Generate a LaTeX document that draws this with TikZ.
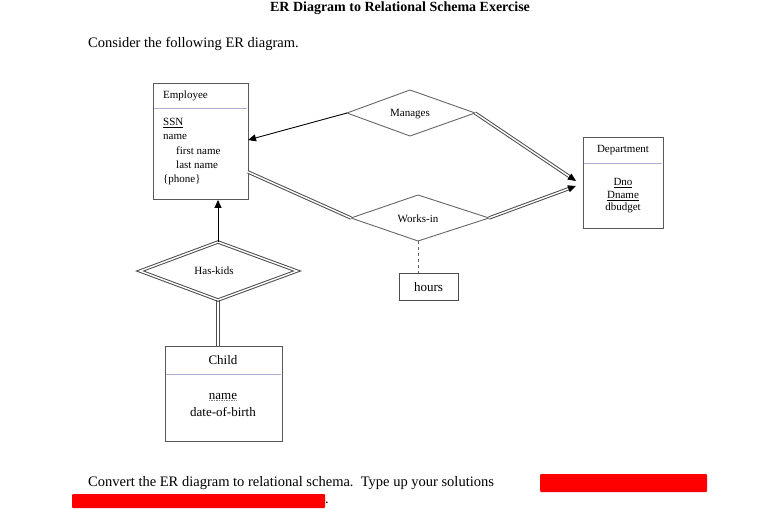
\documentclass[tikz,border=0pt]{standalone}
\usepackage{fontspec}
\setmainfont{Liberation Serif}
\usetikzlibrary{arrows.meta,calc}
\begin{document}
\begin{tikzpicture}[x=1pt,y=-1pt,
  ent/.style={draw=black!65,line width=1pt},
  hdr/.style={draw=blue!25!gray!50,line width=0.9pt},
  rel/.style={draw=black!60,line width=0.9pt},
  dbl/.style={draw=black!70,double=white,double distance=1.4pt,line width=1pt},
  arr/.style={-{Triangle[length=8pt,width=7pt]},line width=0.9pt},
  lbl/.style={font=\fontsize{11}{13}\selectfont,inner sep=0pt},
  txt/.style={font=\fontsize{14.5}{16}\selectfont,anchor=west,inner sep=0pt}]
\useasboundingbox (0,0) rectangle (779,521);
\node[font=\bfseries\fontsize{14}{16}\selectfont,inner sep=0pt] (title) at (400,8) {ER Diagram to Relational Schema Exercise};
\node[txt] (t1) at (88,44) {Consider the following ER diagram.};
% Employee
\draw[ent] (153,84) rectangle (248,200);
\draw[hdr] (154,108) -- (247,108);
\node[lbl,anchor=west] (emp) at (163,96) {Employee};
\node[lbl,anchor=north west,align=left,font=\fontsize{11}{14.3}\selectfont] (empattr) at (163,118) {\underline{SSN}\\name\\\hspace*{13pt}first name\\\hspace*{13pt}last name\\\{phone\}};
\coordinate (empR1) at (248,140);
\coordinate (empR2) at (248,172);
\coordinate (empB) at (218,200);
% Department
\draw[ent] (583,138) rectangle (663,229);
\draw[hdr] (584,163) -- (662,163);
\node[lbl] (dep) at (623,150) {Department};
\node[lbl,align=center,font=\fontsize{11}{12.5}\selectfont] (depattr) at (623,196) {\underline{Dno}\\\underline{Dname}\\dbudget};
\coordinate (depL1) at (576,181);
\coordinate (depL2) at (576,186);
% Manages
\coordinate (mL) at (347,113); \coordinate (mT) at (410,90); \coordinate (mR) at (475,113); \coordinate (mB) at (410,136);
\draw[rel] (mL)--(mT)--(mR)--(mB)--cycle;
\node[lbl] (man) at (410,114) {Manages};
% Works-in
\coordinate (wL) at (351,218); \coordinate (wT) at (418,195); \coordinate (wR) at (489,218); \coordinate (wB) at (418,241);
\draw[rel] (wL)--(wT)--(wR)--(wB)--cycle;
\node[lbl] (wor) at (418,219) {Works-in};
% Has-kids
\coordinate (hL) at (140,271); \coordinate (hT) at (218,242); \coordinate (hR) at (297,271); \coordinate (hB) at (218,300);
\draw[dbl] (hL)--(hT)--(hR)--(hB)--cycle;
\node[lbl] (has) at (214,271) {Has-kids};
% hours
\node[draw=black!70,line width=0.9pt,minimum width=59pt,minimum height=27pt,font=\fontsize{13}{15}\selectfont] (hours) at (428.5,287) {hours};
% Child
\draw[ent] (165,346) rectangle (282,441);
\draw[hdr] (166,374) -- (281,374);
\node[font=\fontsize{13}{15}\selectfont,inner sep=0pt] (child) at (223,360) {Child};
\node[font=\fontsize{13}{15}\selectfont,inner sep=0pt] (cname) at (223,396) {name};
\draw[dash pattern=on 1.5pt off 1pt,black!50] ($(cname.south west)+(0,0.5)$) -- ($(cname.south east)+(0,0.5)$);
\node[font=\fontsize{13}{15}\selectfont,inner sep=0pt] (cdob) at (223,412) {date-of-birth};
\coordinate (chT) at (218,346);
% connectors
\draw[arr,black] (mL) -- (empR1);
\draw[dbl] (mR) -- ($(depL1)!8pt!(mR)$);
\draw[arr,black] ($(depL1)!8pt!(mR)$) -- (depL1);
\draw[dbl] (wL) -- (empR2);
\draw[dbl] (wR) -- ($(depL2)!8pt!(wR)$);
\draw[arr,black] ($(depL2)!8pt!(wR)$) -- (depL2);
\draw[arr,black] (hT) -- (empB);
\draw[black!70,line width=1pt] ($(hB)+(-1.2,0)$) -- ($(chT)+(-1.2,0)$);
\draw[black!70,line width=1pt] ($(hB)+(1.2,0)$) -- ($(chT)+(1.2,0)$);
\draw[dashed,black!60,line width=0.9pt] (wB) -- (hours.north -| wB);
% bottom text
\node[txt] (t2) at (88,483) {Convert the ER diagram to relational schema.\ \ Type up your solutions};
\fill[red,rounded corners=1pt] (540,474) rectangle (707,492);
\fill[red,rounded corners=1pt] (72,494) rectangle (325,508);
\node[txt] (dot) at (325,503) {.};
\end{tikzpicture}
\end{document}
